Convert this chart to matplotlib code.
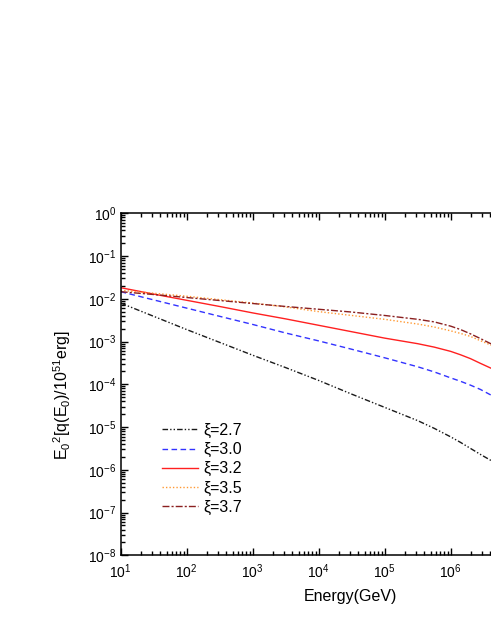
import numpy as np
import matplotlib
matplotlib.use("Agg")
import matplotlib.pyplot as plt
from matplotlib.ticker import FuncFormatter

plt.rcParams['font.family'] = ['Liberation Sans', 'DejaVu Sans']
plt.rcParams['mathtext.fontset'] = 'custom'
plt.rcParams['mathtext.rm'] = 'Liberation Sans'
plt.rcParams['mathtext.it'] = 'Liberation Sans:italic'
plt.rcParams['mathtext.bf'] = 'Liberation Sans:bold'
plt.rcParams['axes.unicode_minus'] = False

# ---- data ----
log_energy = [1.0, 1.5, 2.0, 2.5, 3.0, 3.5, 4.0, 4.5, 5.0, 5.5, 5.75, 6.0, 6.15, 6.3, 6.45, 6.62]
log_xi27 = [-2.10, -2.41, -2.72, -3.02, -3.32, -3.61, -3.91, -4.23, -4.54, -4.85, -5.03, -5.23, -5.36, -5.50, -5.64, -5.79]
log_xi30 = [-1.834, -2.026, -2.218, -2.41, -2.60, -2.80, -2.985, -3.18, -3.38, -3.59, -3.71, -3.85, -3.93, -4.02, -4.12, -4.26]
log_xi32 = [-1.74, -1.89, -2.035, -2.18, -2.33, -2.47, -2.62, -2.77, -2.92, -3.05, -3.13, -3.23, -3.31, -3.40, -3.51, -3.63]
log_xi35 = [-1.80, -1.87, -1.94, -2.02, -2.10, -2.19, -2.30, -2.39, -2.48, -2.59, -2.66, -2.75, -2.81, -2.88, -2.98, -3.09]
log_xi37 = [-1.834, -1.90, -1.97, -2.04, -2.11, -2.18, -2.245, -2.31, -2.39, -2.48, -2.54, -2.64, -2.72, -2.82, -2.93, -3.06]
labels = ['ξ=2.7', 'ξ=3.0', 'ξ=3.2', 'ξ=3.5', 'ξ=3.7']

energy = 10.0 ** np.array(log_energy)
series = [log_xi27, log_xi30, log_xi32, log_xi35, log_xi37]
colors = ['#1a1a1a', '#3333ff', '#ff2020', '#ff9933', '#8b2020']
styles = [(0, (4, 1.5, 1, 1.5, 1, 1.5)), (0, (4, 2.5)), '-', (0, (1, 1.5)), (0, (5, 1.5, 1.5, 1.5))]

fig = plt.figure(figsize=(4.91, 6.35), dpi=100)
ax = fig.add_axes([120.7 / 491, 1 - 555.3 / 635, 462 / 491, 342 / 635])

for s, c, ls, lab in zip(series, colors, styles, labels):
    ax.plot(energy, 10.0 ** np.array(s), color=c, linestyle=ls, lw=1.0, label=lab)

ax.set_xscale('log')
ax.set_yscale('log')
ax.set_xlim(10, 1e8)
ax.set_ylim(1e-8, 1)
ax.set_xticks([10.0 ** k for k in range(1, 9)])
ax.set_yticks([10.0 ** k for k in range(-8, 1)])


def pow_fmt(v, pos):
    k = int(round(np.log10(v)))
    if k > 6:
        return ''
    return r'$\mathregular{10^{%d}}$' % k


ax.xaxis.set_major_formatter(FuncFormatter(pow_fmt))
ax.yaxis.set_major_formatter(FuncFormatter(pow_fmt))

ax.tick_params(which='both', direction='in', top=True, right=True, width=1.0, labelsize=10)
ax.tick_params(which='major', length=5)
ax.tick_params(which='minor', length=3)
ax.tick_params(axis='x', pad=5)
ax.tick_params(axis='y', pad=3)
for sp in ax.spines.values():
    sp.set_linewidth(1.1)

ax.set_xlabel('Energy(GeV)', fontsize=11.5)
ax.xaxis.set_label_coords(350.8 / 491, 1 - 596.7 / 635, transform=fig.transFigure)
ax.xaxis.label.set_va('center')
ax.set_ylabel(r'$\mathregular{E_0{}^2[q(E_0)/10^{51}erg]}$', fontsize=11.5)
ax.yaxis.set_label_coords(62 / 491, 1 - 395 / 635, transform=fig.transFigure)
ax.yaxis.label.set_va('center')

leg = ax.legend(loc='upper left', bbox_to_anchor=((161.7 - 120.7) / 462, (555.3 - 423) / 342),
                frameon=False, fontsize=11.5, handlelength=2.3, handletextpad=0.3,
                labelspacing=0.26, borderpad=0, borderaxespad=0)

fig.savefig('out.png', dpi=100)
